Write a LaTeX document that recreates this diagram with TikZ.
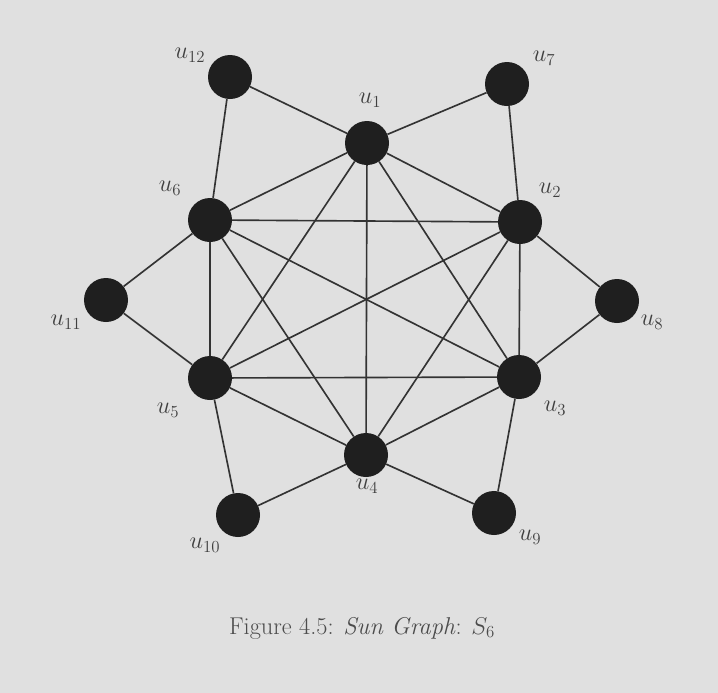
\documentclass[tikz,border=0pt]{standalone}
\begin{document}
\begin{tikzpicture}[x=0.03cm,y=-0.03cm,
  vtx/.style={circle,fill=black!88,minimum size=1.32cm,inner sep=0pt},
  lbl/.style={font=\huge,text=black!75},
  edge/.style={draw=black!80,line width=1.4pt}]
\fill[black!12] (0,0) rectangle (718,693);
\useasboundingbox (0,0) rectangle (718,693);
\node[vtx] (u1) at (367,143) {};
\node[vtx] (u2) at (520,222) {};
\node[vtx] (u3) at (519,377) {};
\node[vtx] (u4) at (366,455) {};
\node[vtx] (u5) at (210,378) {};
\node[vtx] (u6) at (210,220) {};
\node[vtx] (u7) at (507,84) {};
\node[vtx] (u8) at (617,301) {};
\node[vtx] (u9) at (494,513) {};
\node[vtx] (u10) at (238,515) {};
\node[vtx] (u11) at (106,300) {};
\node[vtx] (u12) at (230,77) {};
\foreach \a/\b in {u1/u2,u1/u3,u1/u4,u1/u5,u1/u6,u2/u3,u2/u4,u2/u5,u2/u6,u3/u4,u3/u5,u3/u6,u4/u5,u4/u6,u5/u6,
  u7/u1,u7/u2,u8/u2,u8/u3,u9/u3,u9/u4,u10/u4,u10/u5,u11/u5,u11/u6,u12/u6,u12/u1}
  \draw[edge] (\a) -- (\b);
\node[lbl] (l1) at (370,100) {$u_1$};
\node[lbl] (l2) at (550,190) {$u_2$};
\node[lbl] (l3) at (555,408) {$u_3$};
\node[lbl] (l4) at (367,486) {$u_4$};
\node[lbl] (l5) at (168,410) {$u_5$};
\node[lbl] (l6) at (170,188) {$u_6$};
\node[lbl] (l7) at (544,58) {$u_7$};
\node[lbl] (l8) at (652,322) {$u_8$};
\node[lbl] (l9) at (530,537) {$u_9$};
\node[lbl] (l10) at (205,545) {$u_{10}$};
\node[lbl] (l11) at (66,322) {$u_{11}$};
\node[lbl] (l12) at (190,55) {$u_{12}$};
\node[font=\huge,text=black!70] (cap) at (362,628) {Figure 4.5: \textit{Sun Graph}: $S_6$};
\end{tikzpicture}
\end{document}
